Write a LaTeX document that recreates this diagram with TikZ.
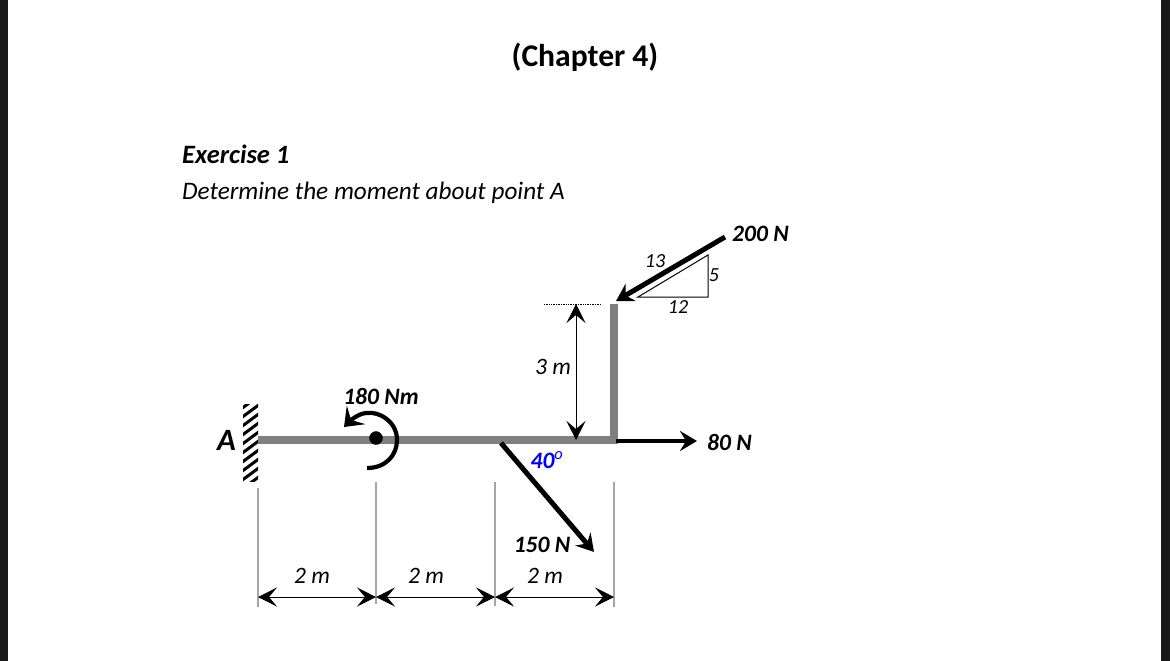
\documentclass[tikz,border=0pt]{standalone}
\usepackage{fontspec}
\setmainfont{Carlito}
\usetikzlibrary{arrows.meta}
\tikzset{
  beam/.style={draw=black!50, line width=7.5pt},
  force/.style={line width=5pt, -{Stealth[length=17pt, width=20pt, inset=6pt]}},
  dimline/.style={line width=0.9pt, {Stealth[length=19pt, width=19pt, inset=8pt]}-{Stealth[length=19pt, width=19pt, inset=8pt]}},
  extline/.style={draw=black!35, line width=1.1pt},
  lbl/.style={font=\fontsize{23.5}{26}\selectfont\itshape, inner sep=0pt},
  smalllbl/.style={font=\fontsize{20}{22}\selectfont\itshape, inner sep=0pt},
  forcelbl/.style={font=\fontsize{23.5}{26}\selectfont\bfseries\itshape, inner sep=0pt}
}
\begin{document}
\begin{tikzpicture}[x=1pt, y=-1pt]
    \useasboundingbox (0,0) rectangle (1170,661);
    \fill[black!90] (0,0) rectangle (8,661);
    \fill[black!90] (1161,0) rectangle (1170,661);

    \node[font=\fontsize{31.6}{34}\selectfont\bfseries, inner sep=0pt] (title) at (585,57) {(Chapter 4)};
    \node[font=\fontsize{26.5}{29}\selectfont\bfseries\itshape, inner sep=0pt, anchor=west] (exercise) at (182,154) {Exercise 1};
    \node[font=\fontsize{25.2}{28}\selectfont\itshape, inner sep=0pt, anchor=west] (question) at (182,193) {Determine the moment about point A};

    % wall
    \begin{scope}
      \clip (243,404) rectangle (258,481);
      \foreach \y in {402,411,...,490} {
        \draw[black, line width=3pt] (241,\y+7) -- (260,\y-7);
      }
    \end{scope}
    \node[font=\fontsize{31}{34}\selectfont\bfseries\itshape, inner sep=0pt] (ptA) at (226.5,440) {A};

    % beam
    \coordinate (wall) at (258,440);
    \coordinate (corner) at (614,440);
    \coordinate (top) at (614,304);
    \draw[beam] (wall) -- (corner) -- (top);

    % moment
    \filldraw[black] (376,438) circle (6.5);
    \coordinate (mstart) at (367,468);
    \coordinate (mtip) at (344,427);
    \draw[line width=4.2pt, -{Stealth[length=17pt, width=26pt, inset=7pt]}]
      (mstart) .. controls (386,468) and (397,455) .. (397,440)
      .. controls (397,422) and (380,411) .. (366,413) .. controls (358,414) and (351,420) .. (mtip);
    \node[forcelbl] (mlabel) at (381,396) {180 Nm};

    % forces
    \coordinate (f80a) at (616,441);
    \coordinate (f80b) at (697,441);
    \draw[force, line width=4.2pt] (f80a) -- (f80b);
    \node[forcelbl, anchor=west] (f80) at (707,442) {80 N};

    \coordinate (f150a) at (501,443);
    \coordinate (f150b) at (594,552);
    \draw[force] (f150a) -- (f150b);
    \node[forcelbl] (f150) at (542,545) {150 N};
    \node[forcelbl, text=blue] (ang) at (547,460) {40$^{\mathit{o}}$};

    \coordinate (f200a) at (725,237);
    \coordinate (f200b) at (616,301);
    \draw[force] (f200a) -- (f200b);
    \node[forcelbl, anchor=west] (f200) at (732,234) {200 N};

    % slope triangle
    \coordinate (tria) at (708,255);
    \coordinate (trib) at (708,297);
    \coordinate (tric) at (638,297);
    \draw[line width=1pt] (tria) -- (trib) -- (tric) -- cycle;
    \node[smalllbl] (n13) at (655,261) {13};
    \node[smalllbl] (n5) at (714,275) {5};
    \node[smalllbl] (n12) at (678,307) {12};

    % 3 m
    \coordinate (doa) at (544,304);
    \coordinate (dob) at (601,304);
    \draw[densely dotted, line width=0.7pt] (doa) -- (dob);
    \coordinate (vtop) at (576,304);
    \coordinate (vbot) at (576,440);
    \draw[dimline] (vtop) -- (vbot);
    \node[lbl] (d3) at (553,367) {3 m};

    % extension lines
    \coordinate (e1a) at (258,488);
    \coordinate (e1b) at (258,607);
    \coordinate (e2a) at (376,482);
    \coordinate (e2b) at (376,604);
    \coordinate (e3a) at (495,482);
    \coordinate (e3b) at (495,606);
    \coordinate (e4a) at (614,482);
    \coordinate (e4b) at (614,607);
    \draw[extline] (e1a) -- (e1b);
    \draw[extline] (e2a) -- (e2b);
    \draw[extline] (e3a) -- (e3b);
    \draw[extline] (e4a) -- (e4b);

    % 2 m
    \coordinate (h1) at (258,597);
    \coordinate (h2) at (376,597);
    \coordinate (h3) at (495,597);
    \coordinate (h4) at (614,597);
    \draw[dimline] (h1) -- (h2);
    \draw[dimline] (h2) -- (h3);
    \draw[dimline] (h3) -- (h4);
    \node[lbl] (d1) at (312,576) {2 m};
    \node[lbl] (d2) at (426,576) {2 m};
    \node[lbl] (d4) at (545,576) {2 m};
\end{tikzpicture}
\end{document}
